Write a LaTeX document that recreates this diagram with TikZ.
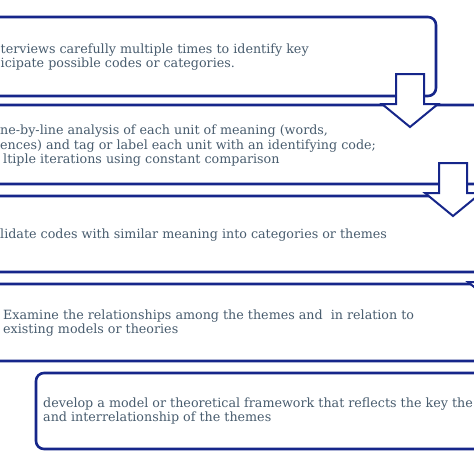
\documentclass[tikz,border=0pt]{standalone}
\usepackage{fontspec}
\setmainfont{DejaVu Serif}
\definecolor{navy}{RGB}{22,38,138}
\definecolor{txt}{RGB}{72,92,110}
\begin{document}
\begin{tikzpicture}[x=1pt,y=-1pt,
  box/.style={draw=navy,line width=2.6pt,rounded corners=8pt,inner sep=0pt},
  blockarrow/.style={draw=navy,line width=2pt,fill=white,line join=miter},
  lbl/.style={anchor=base west,inner sep=0pt,align=left,text=txt,
    font=\fontsize{12.7}{14.5}\selectfont}]
\useasboundingbox (0,0) rectangle (474,474);
\clip (0,0) rectangle (474,474);
\fill[white] (0,0) rectangle (474,474);
% boxes
\node[box,minimum width=636pt,minimum height=79pt] (b1) at (118,56.5) {};
\node[box,minimum width=650pt,minimum height=79pt] (b2) at (175,144.5) {};
\node[box,minimum width=640pt,minimum height=76pt] (b3) at (220,234) {};
\node[box,minimum width=640pt,minimum height=77pt] (b4) at (260,322.5) {};
\node[box,minimum width=584pt,minimum height=76pt] (b5) at (328,411) {};
% texts (anchor = baseline of last line)
\node[lbl] (t1) at (0.5,67.5) {terviews carefully multiple times to identify key\\icipate possible codes or categories.};
\node[lbl] (t2) at (0,163.5) {ne-by-line analysis of each unit of meaning (words,\\ences) and tag or label each unit with an identifying code;\\\hspace*{3pt}ltiple iterations using constant comparison};
\node[lbl] (t3) at (0,238) {lidate codes with similar meaning into categories or themes};
\node[lbl] (t4) at (3,333.5) {Examine the relationships among the themes and\ \ in relation to\\existing models or theories};
\node[lbl] (t5) at (43,421.5) {develop a model or theoretical framework that reflects the key the\\and interrelationship of the themes};
% block arrows
\coordinate (a1) at (410,74);
\coordinate (a2) at (453,163);
\coordinate (a3) at (496,252);
\foreach \a in {a1,a2,a3}{
  \draw[blockarrow] ([xshift=-14pt]\a) -- ([xshift=14pt]\a) -- ([xshift=14pt,yshift=-30pt]\a)
    -- ([xshift=28pt,yshift=-30pt]\a) -- ([yshift=-53pt]\a) -- ([xshift=-28pt,yshift=-30pt]\a)
    -- ([xshift=-14pt,yshift=-30pt]\a) -- cycle;
}
\end{tikzpicture}
\end{document}
